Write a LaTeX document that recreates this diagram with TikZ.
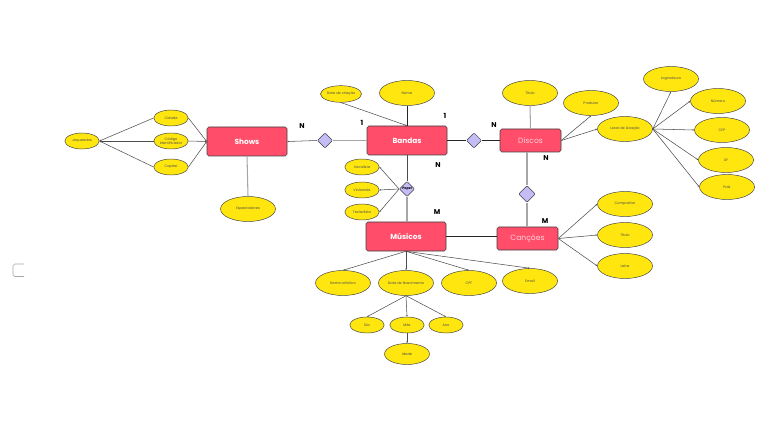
\documentclass[tikz,border=0pt]{standalone}
\usepackage{fontspec}
\setmainfont{Poppins}
\usepackage{tikz}
\usetikzlibrary{shapes.geometric, arrows.meta}
\definecolor{entityred}{HTML}{FF4D6A}
\definecolor{attryellow}{HTML}{FFE60F}
\definecolor{relviolet}{HTML}{C4BCF5}
\begin{document}
\begin{tikzpicture}[
		x=0.03cm, y=-0.03cm,
		entity/.style={rectangle, draw=black!75, line width=0.5pt, rounded corners=1.5pt, fill=entityred, text=white, inner sep=0pt, font=\fontsize{6.3}{8}\selectfont\bfseries},
		weak/.style={entity, font=\fontsize{6.5}{8}\selectfont, text=white!75!entityred},
		attr/.style={ellipse, draw=black!75, line width=0.4pt, fill=attryellow, text=black!70, inner sep=0pt, minimum width=1.65cm, minimum height=0.75cm, align=center, font=\fontsize{3}{3.7}\selectfont},
		small/.style={attr, minimum width=1.03cm, minimum height=0.48cm},
		rel/.style={diamond, draw=black!75, line width=0.4pt, rounded corners=0.8pt, fill=relviolet, inner sep=0pt, minimum size=0.46cm, font=\fontsize{2.8}{3}\selectfont\bfseries},
		card/.style={inner sep=0pt, font=\fontsize{6}{7}\selectfont\bfseries},
		link/.style={draw=black!70, line width=0.45pt, -{Stealth[length=1.6pt, width=1.3pt]}},
		dark/.style={draw=black!85, line width=0.8pt},
		pale/.style={draw=black!35, line width=0.9pt}
	]
  \useasboundingbox (0,0) rectangle (768,431);
  % entidades
  \node (shows) [entity, minimum width=2.4cm, minimum height=0.87cm] at (247,141.5) {Shows};
  \node (bandas) [entity, minimum width=2.4cm, minimum height=0.87cm] at (407,140.5) {Bandas};
  \node (musicos) [entity, minimum width=2.4cm, minimum height=0.87cm] at (406,236.5) {Músicos};
  \node (discos) [weak, minimum width=1.83cm, minimum height=0.69cm] at (530.5,140.5) {Discos};
  \node (cancoes) [weak, minimum width=1.83cm, minimum height=0.69cm] at (527.5,238.5) {Canções};
  % relacionamentos
  \node (rel_shows) [rel] at (325,140.5) {};
  \node (rel_discos) [rel] at (474,140.5) {};
  \node (rel_cancoes) [rel, minimum size=0.5cm] at (527,194) {};
  \node (papel) [rel] at (407,189) {Papel};
  % atributos
  \node (joqueadas) [small] at (82,141) {Joqueadas};
  \node (cidade) [small] at (171,118) {Cidade};
  \node (codigo) [small] at (171,141) {Código\\Identificador};
  \node (capital) [small] at (171,167) {Capital};
  \node (espectadores) [attr] at (248,209) {Espectadores};
  \node (criacao) [small, minimum width=1.23cm, minimum height=0.5cm] at (341,94) {Data de criação};
  \node (nome) [attr] at (407,93) {Nome};
  \node (titulo) [attr] at (530,93) {Título};
  \node (produtor) [attr] at (591,103) {Produtor};
  \node (local) [attr] at (625,129) {Local de Doação};
  \node (logradouro) [attr] at (671,79) {Logradouro};
  \node (numero) [attr] at (718,101) {Número};
  \node (cep) [attr] at (722,130) {CEP};
  \node (uf) [attr] at (726,160) {UF};
  \node (pais) [attr] at (727,187) {País};
  \node (compositor) [attr] at (625,204) {Compositor};
  \node (titulo_c) [attr] at (625,235) {Título};
  \node (letra) [attr] at (625,266) {Letra};
  \node (vocalista) [small] at (362,167) {Vocalista};
  \node (violonista) [small] at (362,190) {Violonista};
  \node (tecladista) [small] at (362,212) {Tecladista};
  \node (artistico) [attr] at (343,283) {Nome artístico};
  \node (nascimento) [attr] at (406,283) {Data de Nascimento};
  \node (cpf) [attr] at (469,283) {CPF};
  \node (email) [attr] at (530,281) {Email};
  \node (dia) [small] at (367,325) {Dia};
  \node (mes) [small] at (407,325) {Mês};
  \node (ano) [small] at (446,325) {Ano};
  \node (idade) [small, minimum width=1.35cm, minimum height=0.63cm] at (407,354) {Idade};
  % cardinalidades
  \node (c_shows) [card] at (302,126) {N};
  \node (c_bandas_l) [card] at (362,123) {1};
  \node (c_bandas_r) [card] at (445,116) {1};
  \node (c_discos) [card] at (494,125) {N};
  \node (c_bandas_b) [card] at (438,165) {N};
  \node (c_discos_b) [card] at (546,158) {N};
  \node (c_musicos) [card] at (437,212) {M};
  \node (c_cancoes) [card] at (545,221) {M};
  % ligacoes
  \draw [link] (cidade.west) -- (joqueadas.east);
  \draw [link] (codigo.west) -- (joqueadas.east);
  \draw [link] (capital.west) -- (joqueadas.east);
  \draw [link] (cidade.east) -- (shows.west);
  \draw [link] (codigo.east) -- (shows.west);
  \draw [link] (capital.east) -- (shows.west);
  \draw [pale] (shows.south) -- (espectadores.north);
  \draw [link] (rel_shows.west) -- (shows.east);
  \draw [pale] (rel_shows.east) -- (bandas.west);
  \draw [dark] (bandas.east) -- (rel_discos.west);
  \draw [dark] (rel_discos.east) -- (discos.west);
  \draw [link] (criacao.south) -- (bandas.north);
  \draw [dark] (nome.south) -- (bandas.north);
  \draw [pale] (titulo.south) -- (discos.north);
  \draw [draw=black!70, line width=0.6pt] (bandas.south) -- (papel.north);
  \draw [pale] (papel.south) -- (papel.south |- musicos.north);
  \draw [link] (papel.west) -- (vocalista.east);
  \draw [link] (papel.west) -- (violonista.east);
  \draw [link] (papel.west) -- (tecladista.east);
  \draw [pale] (rel_cancoes.north) -- (rel_cancoes.north |- discos.south);
  \draw [pale] (rel_cancoes.south) -- (rel_cancoes.south |- cancoes.north);
  \draw [dark] (musicos.east) -- (musicos.east -| cancoes.west);
  \draw [link] (discos.east) -- (produtor.south);
  \draw [link] (discos.east) -- (local.west);
  \draw [link] (local.east) -- (logradouro.south);
  \draw [link] (local.east) -- (numero.west);
  \draw [link] (local.east) -- (cep.west);
  \draw [link] (local.east) -- (uf.west);
  \draw [link] (local.east) -- (pais.west);
  \draw [link] (cancoes.east) -- (compositor.west);
  \draw [link] (cancoes.east) -- (titulo_c.west);
  \draw [link] (cancoes.east) -- (letra.west);
  \draw [link] (musicos.south) -- (artistico.north);
  \draw [link] (musicos.south) -- (nascimento.north);
  \draw [link] (musicos.south) -- (cpf.north);
  \draw [link] (musicos.south) -- (email.north);
  \draw [link] (nascimento.south) -- (dia.north);
  \draw [link] (nascimento.south) -- (mes.north);
  \draw [link] (nascimento.south) -- (ano.north);
  \draw [link] (mes.south) -- (idade.north);
  % marca solta
  \draw [draw=black!35, line width=0.5pt, rounded corners=1.5pt] (24,264) -- (13,264) -- (13,276.5) -- (24,276.5);
\end{tikzpicture}
\end{document}
